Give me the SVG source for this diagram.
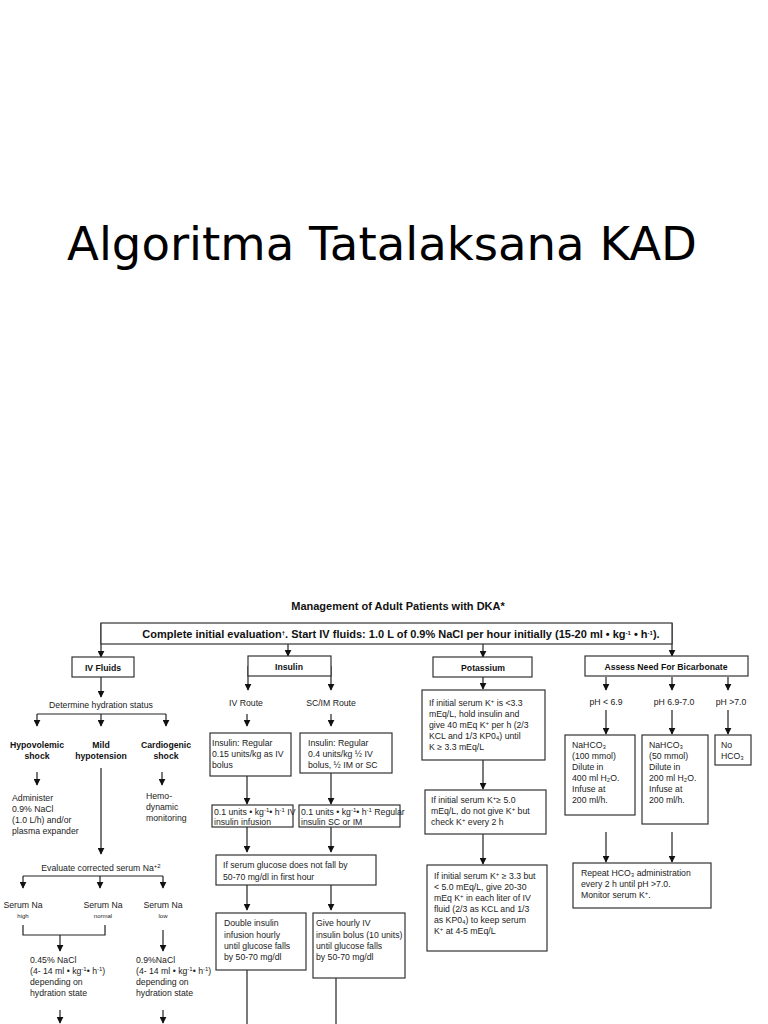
<svg xmlns="http://www.w3.org/2000/svg" width="768" height="1024" viewBox="0 0 768 1024">
<defs>
<marker id="ah" viewBox="0 0 10 10" refX="9" refY="5" markerWidth="7" markerHeight="7" markerUnits="userSpaceOnUse" orient="auto"><path d="M0,0 L10,5 L0,10 z" fill="#111"/></marker>
<style>
.t{font-family:"Liberation Sans",Arial,sans-serif;font-size:8.7px;fill:#222}
.s{font-size:6px}
.b{font-weight:bold;fill:#111}
.h{font-family:"Liberation Sans",Arial,sans-serif;font-weight:bold;font-size:11px;fill:#111}
.box{fill:#fff;stroke:#333;stroke-width:1.2}
.c line,.c polyline{stroke:#222;stroke-width:1.2;fill:none}
.c .a{marker-end:url(#ah)}
</style>
</defs>
<rect width="768" height="1024" fill="#fff"/>
<text x="382" y="260" text-anchor="middle" font-family="DejaVu Sans,sans-serif" font-size="46" textLength="630" lengthAdjust="spacingAndGlyphs" fill="#000">Algoritma Tatalaksana KAD</text>

<g class="c" id="connectors">
<polyline class="a" points="101,644 101,623 101,657"/>
<line class="a" x1="672" y1="623" x2="672" y2="656"/>
<line class="a" x1="288" y1="644" x2="288" y2="656"/>
<line class="a" x1="483" y1="644" x2="483" y2="657"/>
<polyline class="a" points="248,666 248,690"/>
<polyline class="a" points="331,666 331,690"/>
<line class="a" x1="247" y1="714" x2="247" y2="726"/>
<line class="a" x1="331" y1="714" x2="331" y2="726"/>
<line class="a" x1="247" y1="776" x2="247" y2="804"/>
<line class="a" x1="331" y1="773" x2="331" y2="804"/>
<line class="a" x1="247" y1="827" x2="247" y2="852"/>
<line class="a" x1="331" y1="827" x2="331" y2="852"/>
<line class="a" x1="247" y1="885" x2="247" y2="910"/>
<line class="a" x1="331" y1="885" x2="331" y2="910"/>
<line x1="247" y1="970" x2="247" y2="1024"/>
<line x1="336" y1="978" x2="336" y2="1024"/>
<line class="a" x1="483" y1="677" x2="483" y2="689"/>
<line class="a" x1="483" y1="760" x2="483" y2="789"/>
<line class="a" x1="483" y1="834" x2="483" y2="864"/>
<line class="a" x1="606" y1="677" x2="606" y2="690"/>
<line class="a" x1="672" y1="677" x2="672" y2="690"/>
<line class="a" x1="728" y1="677" x2="728" y2="690"/>
<line class="a" x1="606" y1="710" x2="606" y2="734"/>
<line class="a" x1="672" y1="710" x2="672" y2="734"/>
<line class="a" x1="728" y1="710" x2="728" y2="734"/>
<line class="a" x1="606" y1="832" x2="606" y2="862"/>
<line class="a" x1="672" y1="832" x2="672" y2="862"/>
<line class="a" x1="101" y1="677" x2="101" y2="697"/>
<line x1="37" y1="714" x2="166" y2="714"/>
<line class="a" x1="37" y1="714" x2="37" y2="726"/>
<line class="a" x1="101" y1="714" x2="101" y2="726"/>
<line class="a" x1="166" y1="714" x2="166" y2="726"/>
<line class="a" x1="37" y1="772" x2="37" y2="785"/>
<line class="a" x1="162" y1="772" x2="162" y2="785"/>
<line class="a" x1="101" y1="768" x2="101" y2="854"/>
<line x1="23" y1="876" x2="163" y2="876"/>
<line class="a" x1="23" y1="876" x2="23" y2="888"/>
<line class="a" x1="100" y1="876" x2="100" y2="888"/>
<line class="a" x1="163" y1="876" x2="163" y2="888"/>
<polyline points="23,925 23,935 105,935 105,925"/>
<line class="a" x1="60" y1="935" x2="60" y2="951"/>
<line class="a" x1="163" y1="930" x2="163" y2="951"/>
<line class="a" x1="60" y1="1010" x2="60" y2="1023"/>
<line class="a" x1="163" y1="1010" x2="163" y2="1023"/>
</g>

<g id="header"><text class="h" x="398" y="610" text-anchor="middle">Management of Adult Patients with DKA*</text></g>
<g id="start"><rect class="box" x="101" y="623" width="571" height="21" fill="none"/>
<text class="h" x="401" y="638" text-anchor="middle" font-size="9.4">Complete initial evaluation<tspan font-size="6" dy="-3">†</tspan><tspan dy="3">.  Start IV fluids: 1.0 L of 0.9% NaCl per hour initially (15-20 ml • kg</tspan><tspan font-size="6" dy="-3">-1</tspan><tspan dy="3"> • h</tspan><tspan font-size="6" dy="-3">-1</tspan><tspan dy="3">).</tspan></text></g>

<g id="ivfluids"><rect class="box" x="72" y="657" width="62" height="20"/><text class="t b" x="103" y="671" text-anchor="middle" font-size="10.5">IV Fluids</text></g>
<g id="insulin"><rect class="box" x="248" y="656" width="83" height="20"/><text class="t b" x="289" y="670" text-anchor="middle" font-size="10.5">Insulin</text></g>
<g id="potassium"><rect class="box" x="433" y="657" width="99" height="20"/><text class="t b" x="483" y="671" text-anchor="middle" font-size="10.5">Potassium</text></g>
<g id="bicarb"><rect class="box" x="585" y="656" width="163" height="20"/><text class="t b" x="666" y="670" text-anchor="middle" font-size="10.5">Assess Need For Bicarbonate</text></g>

<g id="hydration"><text class="t" x="101" y="708" text-anchor="middle">Determine hydration status</text></g>
<g id="hypo"><text class="t b" x="37" y="748" text-anchor="middle" font-size="7.5">Hypovolemic</text><text class="t b" x="37" y="759" text-anchor="middle" font-size="7.5">shock</text></g>
<g id="mild"><text class="t b" x="101" y="748" text-anchor="middle" font-size="7.5">Mild</text><text class="t b" x="101" y="759" text-anchor="middle" font-size="7.5">hypotension</text></g>
<g id="cardio"><text class="t b" x="166" y="748" text-anchor="middle" font-size="7.5">Cardiogenic</text><text class="t b" x="166" y="759" text-anchor="middle" font-size="7.5">shock</text></g>
<g id="administer"><text class="t" x="12" y="801">Administer</text><text class="t" x="12" y="812">0.9% NaCl</text><text class="t" x="12" y="823">(1.0 L/h) and/or</text><text class="t" x="12" y="834">plasma expander</text></g>
<g id="hemo"><text class="t" x="146" y="799">Hemo-</text><text class="t" x="146" y="810">dynamic</text><text class="t" x="146" y="821">monitoring</text></g>
<g id="evaluate"><text class="t" x="101" y="871" text-anchor="middle">Evaluate corrected serum Na<tspan class="s" dy="-3">+2</tspan></text></g>
<g id="nahigh"><text class="t" x="23" y="908" text-anchor="middle">Serum Na</text><text class="t s" x="23" y="918" text-anchor="middle">high</text></g>
<g id="nanormal"><text class="t" x="103" y="908" text-anchor="middle">Serum Na</text><text class="t s" x="103" y="918" text-anchor="middle">normal</text></g>
<g id="nalow"><text class="t" x="163" y="908" text-anchor="middle">Serum Na</text><text class="t s" x="163" y="918" text-anchor="middle">low</text></g>
<g id="nacl045"><text class="t" x="30" y="963">0.45% NaCl</text><text class="t" x="30" y="974">(4- 14 ml • kg<tspan class="s" dy="-3">-1</tspan><tspan dy="3">• h</tspan><tspan class="s" dy="-3">-1</tspan><tspan dy="3">)</tspan></text><text class="t" x="30" y="985">depending on</text><text class="t" x="30" y="996">hydration state</text></g>
<g id="nacl09"><text class="t" x="136" y="963">0.9%NaCl</text><text class="t" x="136" y="974">(4- 14 ml • kg<tspan class="s" dy="-3">-1</tspan><tspan dy="3">• h</tspan><tspan class="s" dy="-3">-1</tspan><tspan dy="3">)</tspan></text><text class="t" x="136" y="985">depending on</text><text class="t" x="136" y="996">hydration state</text></g>

<g id="ivroute"><text class="t" x="246" y="706" text-anchor="middle">IV Route</text></g>
<g id="scroute"><text class="t" x="331" y="706" text-anchor="middle">SC/IM Route</text></g>
<g id="ivbolus"><rect class="box" x="210" y="733" width="81" height="43"/><text class="t" x="212" y="746">Insulin: Regular</text><text class="t" x="212" y="757">0.15 units/kg as IV</text><text class="t" x="212" y="768">bolus</text></g>
<g id="scbolus"><rect class="box" x="300" y="733" width="92" height="40"/><text class="t" x="308" y="746">Insulin: Regular</text><text class="t" x="308" y="757">0.4 units/kg ½ IV</text><text class="t" x="308" y="768">bolus, ½ IM or SC</text></g>
<g id="ivinf"><rect class="box" x="212" y="805" width="81" height="22"/><text class="t" x="214" y="815" font-size="6.6">0.1 units • kg<tspan class="s" dy="-3">-1</tspan><tspan dy="3">• h</tspan><tspan class="s" dy="-3">-1</tspan><tspan dy="3"> IV</tspan></text><text class="t" x="214" y="825">insulin infusion</text></g>
<g id="scinf"><rect class="box" x="299" y="805" width="101" height="22"/><text class="t" x="301" y="815" font-size="6.6">0.1 units • kg<tspan class="s" dy="-3">-1</tspan><tspan dy="3">• h</tspan><tspan class="s" dy="-3">-1</tspan><tspan dy="3"> Regular</tspan></text><text class="t" x="301" y="825">insulin SC or IM</text></g>
<g id="glucose"><rect class="box" x="216" y="855" width="160" height="30"/><text class="t" x="223" y="868">If serum glucose does not fall by</text><text class="t" x="223" y="880">50-70 mg/dl in first hour</text></g>
<g id="double"><rect class="box" x="216" y="913" width="90" height="57"/><text class="t" x="224" y="926">Double insulin</text><text class="t" x="224" y="938">infusion hourly</text><text class="t" x="224" y="949">until glucose falls</text><text class="t" x="224" y="960">by 50-70 mg/dl</text></g>
<g id="hourly"><rect class="box" x="313" y="913" width="92" height="65"/><text class="t" x="316" y="926">Give hourly IV</text><text class="t" x="316" y="938">insulin bolus (10 units)</text><text class="t" x="316" y="949">until glucose falls</text><text class="t" x="316" y="960">by 50-70 mg/dl</text></g>

<g id="k1"><rect class="box" x="422" y="690" width="123" height="70"/><text class="t" x="429" y="706">If initial serum K<tspan class="s" dy="-3">+</tspan><tspan dy="3"> is &lt;3.3</tspan></text><text class="t" x="429" y="717">mEq/L, hold insulin and</text><text class="t" x="429" y="728">give 40 mEq K<tspan class="s" dy="-3">+</tspan><tspan dy="3"> per h (2/3</tspan></text><text class="t" x="429" y="739">KCL and 1/3 KP0₄) until</text><text class="t" x="429" y="750">K ≥ 3.3 mEq/L</text></g>
<g id="k2"><rect class="box" x="425" y="790" width="121" height="44"/><text class="t" x="431" y="803">If initial serum K<tspan class="s" dy="-3">+</tspan><tspan dy="3">≥ 5.0</tspan></text><text class="t" x="431" y="814">mEq/L, do not give K<tspan class="s" dy="-3">+</tspan><tspan dy="3"> but</tspan></text><text class="t" x="431" y="825">check K<tspan class="s" dy="-3">+</tspan><tspan dy="3"> every 2 h</tspan></text></g>
<g id="k3"><rect class="box" x="427" y="865" width="120" height="86"/><text class="t" x="434" y="879">If initial serum K<tspan class="s" dy="-3">+</tspan><tspan dy="3"> ≥ 3.3 but</tspan></text><text class="t" x="434" y="890">&lt; 5.0 mEq/L, give 20-30</text><text class="t" x="434" y="901">mEq K<tspan class="s" dy="-3">+</tspan><tspan dy="3"> in each liter of IV</tspan></text><text class="t" x="434" y="912">fluid (2/3 as KCL and 1/3</text><text class="t" x="434" y="923">as KP0₄) to keep serum</text><text class="t" x="434" y="934">K<tspan class="s" dy="-3">+</tspan><tspan dy="3"> at 4-5 mEq/L</tspan></text></g>

<g id="ph1"><text class="t" x="606" y="705" text-anchor="middle">pH &lt; 6.9</text></g>
<g id="ph2"><text class="t" x="674" y="705" text-anchor="middle">pH 6.9-7.0</text></g>
<g id="ph3"><text class="t" x="731" y="705" text-anchor="middle">pH &gt;7.0</text></g>
<g id="na100"><rect class="box" x="565" y="735" width="70" height="80"/><text class="t" x="572" y="748">NaHCO₃</text><text class="t" x="572" y="759">(100 mmol)</text><text class="t" x="572" y="770">Dilute in</text><text class="t" x="572" y="781">400 ml H₂O.</text><text class="t" x="572" y="792">Infuse at</text><text class="t" x="572" y="803">200 ml/h.</text></g>
<g id="na50"><rect class="box" x="642" y="735" width="66" height="89"/><text class="t" x="649" y="748">NaHCO₃</text><text class="t" x="649" y="759">(50 mmol)</text><text class="t" x="649" y="770">Dilute in</text><text class="t" x="649" y="781">200 ml H₂O.</text><text class="t" x="649" y="792">Infuse at</text><text class="t" x="649" y="803">200 ml/h.</text></g>
<g id="nohco3"><rect class="box" x="715" y="735" width="36" height="30"/><text class="t" x="721" y="748">No</text><text class="t" x="721" y="759">HCO₃</text></g>
<g id="repeat"><rect class="box" x="573" y="863" width="138" height="45"/><text class="t" x="581" y="876">Repeat HCO₃ administration</text><text class="t" x="581" y="887">every 2 h until pH &gt;7.0.</text><text class="t" x="581" y="898">Monitor serum K<tspan class="s" dy="-3">+</tspan><tspan dy="3">.</tspan></text></g>
</svg>
